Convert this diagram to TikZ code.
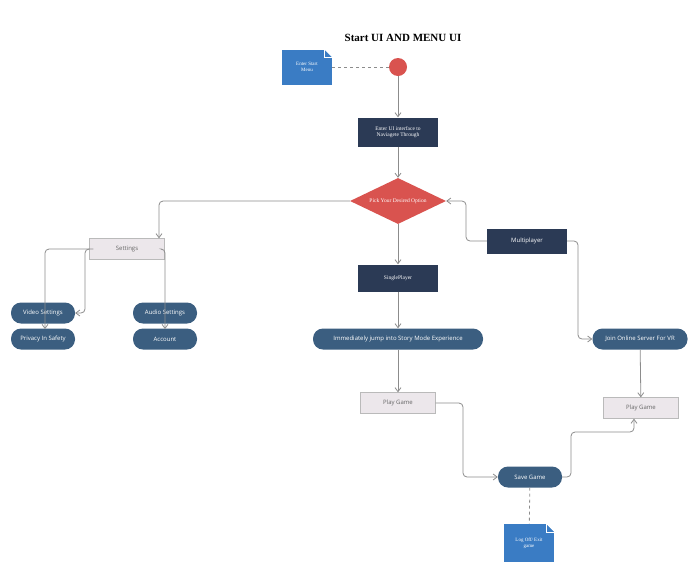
\documentclass[tikz,border=0pt]{standalone}
\usepackage{fontspec}
\setmainfont{Liberation Serif}
\newfontfamily\sansf{Open Sans}
\usetikzlibrary{shapes.geometric,arrows.meta}
\definecolor{navy}{HTML}{2B3A55}
\definecolor{pill}{HTML}{3B5E80}
\definecolor{docblue}{HTML}{3A7CC4}
\definecolor{redc}{HTML}{D9534F}
\definecolor{grayfill}{HTML}{ECE7EB}
\definecolor{lineg}{HTML}{8C8C8C}
\begin{document}
\begin{tikzpicture}[x=1pt,y=-1pt,
 darkbox/.style={draw=none,fill=navy,text=white,font=\fontsize{5.5}{6.5}\selectfont,align=center,minimum width=80pt,minimum height=29pt,inner sep=1pt},
 pillbox/.style={rounded corners=10pt,fill=pill,text=white,font=\sansf\fontsize{6}{7}\selectfont,minimum height=21pt,inner sep=2pt},
 graybox/.style={draw=lineg!60,fill=grayfill,text=black!60,font=\sansf\fontsize{6}{7}\selectfont,minimum width=75pt,minimum height=21pt},
 docbox/.style={fill=docblue,text=white,font=\fontsize{5}{6}\selectfont,align=center,minimum width=50pt,minimum height=35pt,inner sep=1pt},
 conn/.style={draw=lineg,line width=0.8pt,rounded corners=4pt,-{Straight Barb[length=4pt,width=6pt]}},
 plain/.style={draw=lineg,line width=0.8pt,rounded corners=4pt},
 dashline/.style={draw=lineg,line width=0.8pt,dashed}]
\useasboundingbox (0,0) rectangle (700,574);
\node (title) at (403,38) {\fontsize{11}{13}\selectfont\bfseries Start UI AND MENU UI};
\node[docbox] (doc1) at (307,67) {Enter Start\\Menu};
\fill[white] (doc1.north east) ++(-8,0) -- ++(8,0) -- ++(0,8) -- cycle;
\draw[white,line width=0.4pt] (doc1.north east) ++(-8,0) -- ++(0,8) -- ++(8,0);
\node[circle,fill=redc,minimum size=18pt,inner sep=0pt] (start) at (398,67) {};
\node[darkbox] (ui) at (398,132) {Enter UI interface to\\Naviagete Through};
\node[diamond,fill=redc,text=white,font=\fontsize{5.5}{6.5}\selectfont,minimum width=96pt,minimum height=46pt,inner sep=0pt,aspect=2.2] (pick) at (398,201) {Pick Your Desired Option};
\node[graybox] (set) at (127,249) {Settings};
\node[darkbox,font=\sansf\fontsize{6}{7}\selectfont,minimum height=25pt] (multi) at (527,241) {Multiplayer};
\node[darkbox,minimum height=27pt] (single) at (398,278) {SinglePlayer};
\node[pillbox,minimum width=64pt] (video) at (43,313) {Video Settings};
\node[pillbox,minimum width=64pt] (priv) at (43,339) {Privacy In Safety};
\node[pillbox,minimum width=64pt] (audio) at (165,313) {Audio Settings};
\node[pillbox,minimum width=64pt] (acct) at (165,339) {Account};
\node[pillbox,minimum width=170pt] (imm) at (398,339) {Immediately jump into Story Mode Experience};
\node[pillbox,minimum width=95pt] (join) at (640,339) {Join Online Server For VR};
\node[graybox] (pg1) at (398,403) {Play Game};
\node[graybox] (pg2) at (641,408) {Play Game};
\node[pillbox,minimum width=64pt] (save) at (530,477) {Save Game};
\node[docbox,minimum height=38pt] (logoff) at (529,543) {Log Off/ Exit\\game};
\fill[white] (logoff.north east) ++(-8,0) -- ++(8,0) -- ++(0,8) -- cycle;
\draw[white,line width=0.4pt] (logoff.north east) ++(-8,0) -- ++(0,8) -- ++(8,0);
\draw[dashline] (doc1) -- (start);
\draw[dashline] (save) -- (logoff);
\draw[conn] (start) -- (ui);
\draw[conn] (ui) -- (pick);
\draw[conn] (pick.west) -| ([xshift=32pt]set.north);
\draw[conn] (pick) -- (single);
\draw[conn] (multi.west) -| (466,201) -- (pick.east);
\draw[conn] (multi.east) -| (578,339) -- (join.west);
\draw[conn] (single) -- (imm);
\draw[conn] (imm) -- (pg1);
\draw[conn] (join) -- (pg2);
\draw[conn] (pg1.east) -| (463,477) -- (save.west);
\draw[conn] (save.east) -| (571,432) -| ([xshift=-7pt]pg2.south);
\draw[conn] (set.west) -| (45,329);
\draw[conn] ([xshift=4pt]set.west) -| (85,313) -- (video.east);
\draw[conn] ([xshift=-3pt]set.east) -| (165,329);
\end{tikzpicture}
\end{document}
